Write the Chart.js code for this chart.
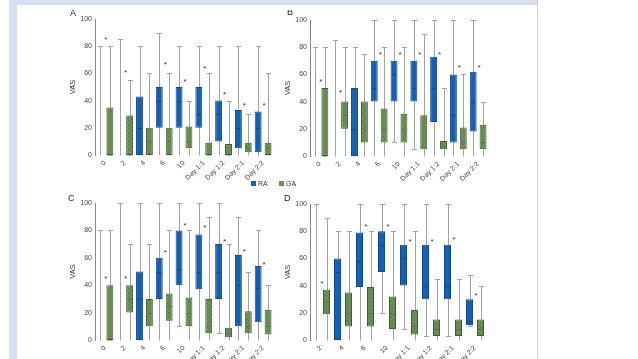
<!DOCTYPE html>
<html>
<head>
<meta charset="utf-8">
<script src="https://cdn.jsdelivr.net/npm/chart.js@4.4.1/dist/chart.umd.min.js"></script>
<style>
  body { margin: 0; background: #fff; width: 638px; height: 359px; overflow: hidden; position: relative; font-family: "Liberation Sans", Arial, sans-serif; }
  #frame { position: absolute; left: 9px; top: 0; width: 528px; height: 359px; background: #d6deef; }
  #inner { position: absolute; left: 17px; top: 5px; width: 520px; height: 354px; background: #fff; }
  #edge { position: absolute; left: 537px; top: 0; width: 1px; height: 359px; background: #d0d0d0; }
  canvas { position: absolute; }
  .leg { position: absolute; top: 179px; font-size: 7px; color: #333; line-height: 9px; }
  .sq { position: absolute; top: 181px; width: 5px; height: 5px; }
</style>
</head>
<body>
<div id="frame"></div>
<div id="inner"></div>
<div id="edge"></div>

<canvas id="chartA" width="210" height="174" style="left:65px;top:9px"></canvas>
<canvas id="chartB" width="210" height="174" style="left:280px;top:10px"></canvas>
<canvas id="chartC" width="210" height="175" style="left:65px;top:193px"></canvas>
<canvas id="chartD" width="208" height="174" style="left:280px;top:194px"></canvas>

<div class="sq" style="left:251px;background:#1a5fab"></div>
<div class="leg" style="left:258px">RA</div>
<div class="sq" style="left:279px;background:#6f8f5b"></div>
<div class="leg" style="left:286px">GA</div>

<script>
// categorias
const labelsABC = ['0', '2', '4', '6', '10', 'Day 1:1', 'Day 1:2', 'Day 2:1', 'Day 2:2'];
const labelsD = ['2', '4', '6', '10', 'Day 1:1', 'Day 1:2', 'Day 2:1', 'Day 2:2'];
const yTicks = [0, 20, 40, 60, 80, 100];

// [min, q1, mediana, q3, max] por categoria
const aRA = [[0,0,0,0,80],[0,0,0,0,85],[0,0,20,43,80],[0,20,40,50,90],[0,20,40,50,80],[0,20,30,50,80],[0,10,30,40,80],[0,5,20,33,80],[0,2,20,32,80]];
const aGA = [[0,0,0,35,80],[0,0,0,29,55],[0,0,10,20,60],[0,0,10,20,60],[0,5,10,21,40],[0,0,0,9,60],[0,0,0,8,40],[0,2,5,9,30],[0,0,5,9,60]];
const aStars = [86, 62, null, 68, 55, 65, 46, 38, 38];

const bRA = [[0,0,0,0,80],[0,0,0,0,85],[0,0,20,50,80],[0,40,50,70,100],[10,40,60,70,100],[5,40,50,70,100],[0,25,50,73,100],[0,10,30,60,100],[0,18,40,62,100]];
const bGA = [[0,0,0,50,80],[0,20,30,40,80],[0,10,20,40,75],[0,10,20,35,80],[0,10,20,31,80],[0,5,7,30,90],[0,5,7,11,50],[0,5,10,21,60],[0,5,10,23,40]];
const bStars = [56, 48, null, 76, 76, 76, 76, 66, 66];

const cRA = [[0,0,0,0,80],[0,0,0,0,100],[0,0,30,50,100],[0,30,50,60,100],[10,40,52,80,100],[0,37,50,77,100],[5,30,50,70,100],[0,10,40,62,90],[0,13,38,54,80]];
const cGA = [[0,0,0,40,80],[0,20,30,40,70],[0,10,20,30,70],[0,14,25,34,80],[0,10,20,31,80],[0,5,10,30,90],[0,2,5,9,70],[0,5,10,21,50],[0,4,10,22,40]];
const cStars = [46, 46, null, 65, 85, 83, 73, 66, 56];

const dRA = [[0,0,0,0,100],[0,0,50,60,80],[0,39,58,79,100],[20,50,70,80,100],[8,40,60,70,100],[3,30,40,70,100],[3,30,40,70,100],[10,11,14,30,48]];
const dGA = [[0,19,28,37,90],[0,10,20,35,80],[0,10,20,39,80],[0,8,20,32,80],[0,4,10,22,80],[0,3,8,15,45],[0,3,8,15,45],[0,3,8,15,40]];
const dStars = [43, null, 85, 85, 74, 74, 75, 34];

const fuente = '"Liberation Sans", Arial, sans-serif';
const azul = '#1a5fab';
const verde = '#6f8f5b';

// bigotes, medianas, asteriscos y letra del panel
const boxPlot = {
  id: 'boxPlot',
  beforeDatasetsDraw(chart) {
    const ctx = chart.ctx;
    const y = chart.scales.y;
    ctx.save();
    ctx.strokeStyle = '#a3a3a3';
    ctx.lineWidth = 1;
    chart.data.datasets.forEach((ds, di) => {
      chart.getDatasetMeta(di).data.forEach((el, i) => {
        const s = ds.stats[i];
        const x = Math.round(el.x) + 0.5;
        const top = Math.round(y.getPixelForValue(s[4])) + 0.5;
        const bot = Math.round(y.getPixelForValue(s[0])) + 0.5;
        ctx.beginPath();
        ctx.moveTo(x, bot); ctx.lineTo(x, top);
        ctx.moveTo(x - 2.5, top); ctx.lineTo(x + 2.5, top);
        if (s[0] > 0) { ctx.moveTo(x - 2.5, bot); ctx.lineTo(x + 2.5, bot); }
        ctx.stroke();
      });
    });
    ctx.restore();
  },
  afterDatasetsDraw(chart, args, opts) {
    const ctx = chart.ctx;
    const x = chart.scales.x;
    const y = chart.scales.y;
    ctx.save();
    chart.data.datasets.forEach((ds, di) => {
      ctx.strokeStyle = ds.medianColor;
      chart.getDatasetMeta(di).data.forEach((el, i) => {
        const s = ds.stats[i];
        if (s[1] === s[3]) return;
        const my = Math.round(y.getPixelForValue(s[2])) + 0.5;
        ctx.beginPath();
        ctx.moveTo(el.x - el.width / 2 + 1, my); ctx.lineTo(el.x + el.width / 2 - 1, my);
        ctx.stroke();
      });
    });
    ctx.fillStyle = '#333';
    ctx.font = '8px ' + fuente;
    ctx.textAlign = 'center';
    ctx.textBaseline = 'middle';
    opts.stars.forEach((v, i) => {
      if (v === null) return;
      ctx.fillText('*', x.getPixelForValue(i) + 1, y.getPixelForValue(v) + 2);
    });
    ctx.fillStyle = '#222';
    ctx.font = '9px ' + fuente;
    ctx.textAlign = 'left';
    ctx.fillText(opts.letter, chart.chartArea.left + opts.dx, chart.chartArea.top + opts.dy);
    ctx.restore();
  }
};

function rayado(ctx) {
  const pc = document.createElement('canvas');
  pc.width = 4; pc.height = 4;
  const p = pc.getContext('2d');
  p.fillStyle = verde;
  p.fillRect(0, 0, 4, 4);
  p.strokeStyle = 'rgba(60,90,45,0.45)';
  p.lineWidth = 1;
  p.beginPath();
  p.moveTo(0, 0); p.lineTo(4, 4);
  p.moveTo(-1, 3); p.lineTo(1, 5);
  p.moveTo(3, -1); p.lineTo(5, 1);
  p.stroke();
  return ctx.createPattern(pc, 'repeat');
}

function panel(id, letter, labels, ra, ga, stars, barPct, dx, dy) {
  const ctx = document.getElementById(id).getContext('2d');
  return new Chart(ctx, {
    type: 'bar',
    data: {
      labels: labels,
      datasets: [{
        label: 'RA',
        data: ra.map(s => [s[1], s[3]]),
        stats: ra,
        medianColor: 'rgba(12,55,105,0.6)',
        backgroundColor: azul,
        borderColor: '#134b8a',
        borderWidth: 1,
        borderSkipped: false,
        barPercentage: barPct,
        categoryPercentage: 1
      }, {
        label: 'GA',
        data: ga.map(s => [s[1], s[3]]),
        stats: ga,
        medianColor: 'rgba(55,80,42,0.35)',
        backgroundColor: rayado(ctx),
        borderColor: '#3f5e33',
        borderWidth: 1,
        borderSkipped: false,
        barPercentage: barPct,
        categoryPercentage: 1
      }]
    },
    options: {
      responsive: false,
      animation: false,
      layout: { padding: { top: 10, right: 2, left: 0, bottom: 0 } },
      plugins: {
        legend: { display: false },
        tooltip: { enabled: false },
        boxPlot: { stars: stars, letter: letter, dx: dx, dy: dy }
      },
      scales: {
        x: {
          grid: { display: false, drawTicks: false },
          border: { display: false },
          ticks: { font: { size: 7, family: fuente }, color: '#444', minRotation: 45, maxRotation: 45, autoSkip: false, padding: 4 },
          afterFit: s => { s.height = 28; }
        },
        y: {
          min: 0,
          max: 100,
          afterBuildTicks: s => { s.ticks = yTicks.map(v => ({ value: v })); },
          grid: { display: false, drawTicks: false },
          border: { color: '#8a8a8a' },
          ticks: { font: { size: 7, family: fuente }, color: '#444', padding: 3 },
          title: { display: true, text: 'VAS', font: { size: 7.5, family: fuente }, color: '#333', padding: { top: 3, bottom: 0 } },
          afterFit: s => { s.width = 30; }
        }
      }
    },
    plugins: [boxPlot]
  });
}

panel('chartA', 'A', labelsABC, aRA, aGA, aStars, 0.7, -25, -5);
panel('chartB', 'B', labelsABC, bRA, bGA, bStars, 0.7, -23, -7);
panel('chartC', 'C', labelsABC, cRA, cGA, cStars, 0.7, -27, -4);
panel('chartD', 'D', labelsD, dRA, dGA, dStars, 0.64, -26, -5);
</script>
</body>
</html>
